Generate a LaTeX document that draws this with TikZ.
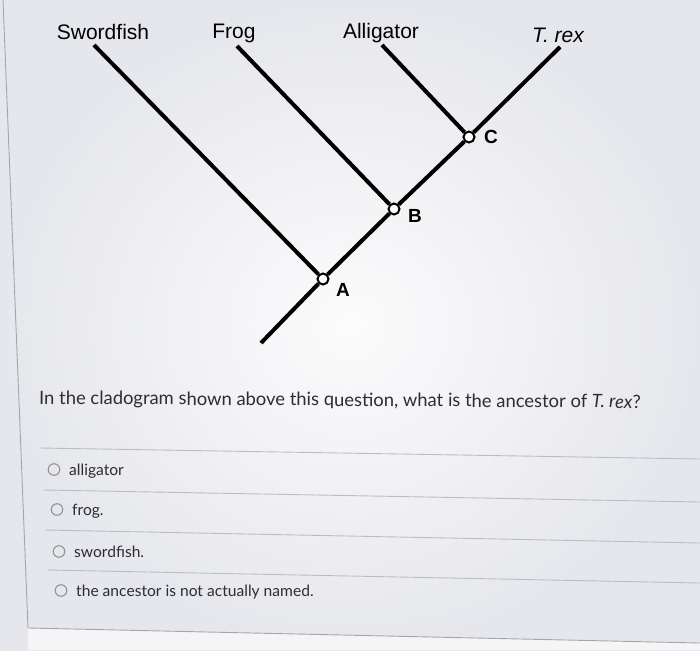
\documentclass[tikz,border=0pt]{standalone}
\usepackage{fontspec}
\setmainfont{Lato}
\newfontfamily\labelfont{Liberation Sans}
\usetikzlibrary{positioning}

\definecolor{screen}{RGB}{230,231,236}
\definecolor{ink}{RGB}{45,45,50}
\definecolor{rulegray}{RGB}{188,189,195}

\begin{document}
\begin{tikzpicture}[
    x=1pt, y=-1pt,
    taxon/.style={font=\labelfont\fontsize{21}{21}\selectfont, inner sep=0pt},
    clade/.style={circle, draw, fill=white, line width=2pt, minimum size=11pt, inner sep=0pt},
    cladelabel/.style={font=\labelfont\bfseries\fontsize{19}{19}\selectfont, inner sep=0pt},
    branch/.style={line width=4pt},
    radio/.style={circle, draw=gray!85, line width=1.1pt, minimum size=11.5pt, inner sep=0pt},
    choice/.style={anchor=base west, text=ink, font=\fontsize{15.6}{15.6}\selectfont, inner sep=0pt},
    sep/.style={draw=rulegray, line width=0.9pt}
]
    \useasboundingbox (0,0) rectangle (700,650);
    \shade[inner color=white!85!screen, outer color=screen] (0,0) rectangle (700,650);
    \fill[white!60!screen] (28,628) -- (700,643) -- (700,650) -- (28,650) -- cycle;
    \draw[gray!70, line width=0.9pt] (3,0) -- (28,628) -- (700,643);

    % Cladogram
    \node[taxon] (sword) at (103,32) {Swordfish};
    \node[taxon] (frog) at (234,33) {Frog};
    \node[taxon] (alli) at (381,33) {Alligator};
    \node[taxon] (trex) at (558,35) {\itshape T. rex};
    \coordinate (swtip) at (94,45);
    \coordinate (frtip) at (237,46);
    \coordinate (altip) at (382,45);
    \coordinate (trtip) at (560,47);
    \coordinate (root) at (261,343);

    \node[clade] (A) at (323,279) {};
    \node[clade] (B) at (394,209) {};
    \node[clade] (C) at (469,137) {};
    \node[cladelabel] at ([shift={(20,11)}]A) {A};
    \node[cladelabel] at ([shift={(21,7)}]B) {B};
    \node[cladelabel] at ([shift={(22,0)}]C) {C};

    \draw[branch] (swtip) -- (A);
    \draw[branch] (frtip) -- (B);
    \draw[branch] (altip) -- (C);
    \draw[branch] (trtip) -- (C);
    \draw[branch] (C) -- (B);
    \draw[branch] (B) -- (A);
    \draw[branch] (A) -- (root);

    % Question
    \node[anchor=base west, text=ink, font=\fontsize{18.4}{18.4}\selectfont, inner sep=0pt, rotate=-0.4]
        (question) at (39,404) {In the cladogram shown above this question, what is the ancestor of \textit{T. rex}?};

    \draw[sep] (40,448) -- (700,459);
    \draw[sep] (43,490) -- (700,502);
    \draw[sep] (45,530) -- (700,543);
    \draw[sep] (48,570) -- (700,583);

    \foreach \y/\x/\txt [count=\i] in {475/54/alligator, 515/57/frog., 557/59/swordfish., 596/61/the ancestor is not actually named.} {
        \node[radio] (radio\i) at (\x,\y-5.5) {};
        \node[choice] (opt\i) at (\x+15,\y) {\txt};
    }
\end{tikzpicture}
\end{document}
